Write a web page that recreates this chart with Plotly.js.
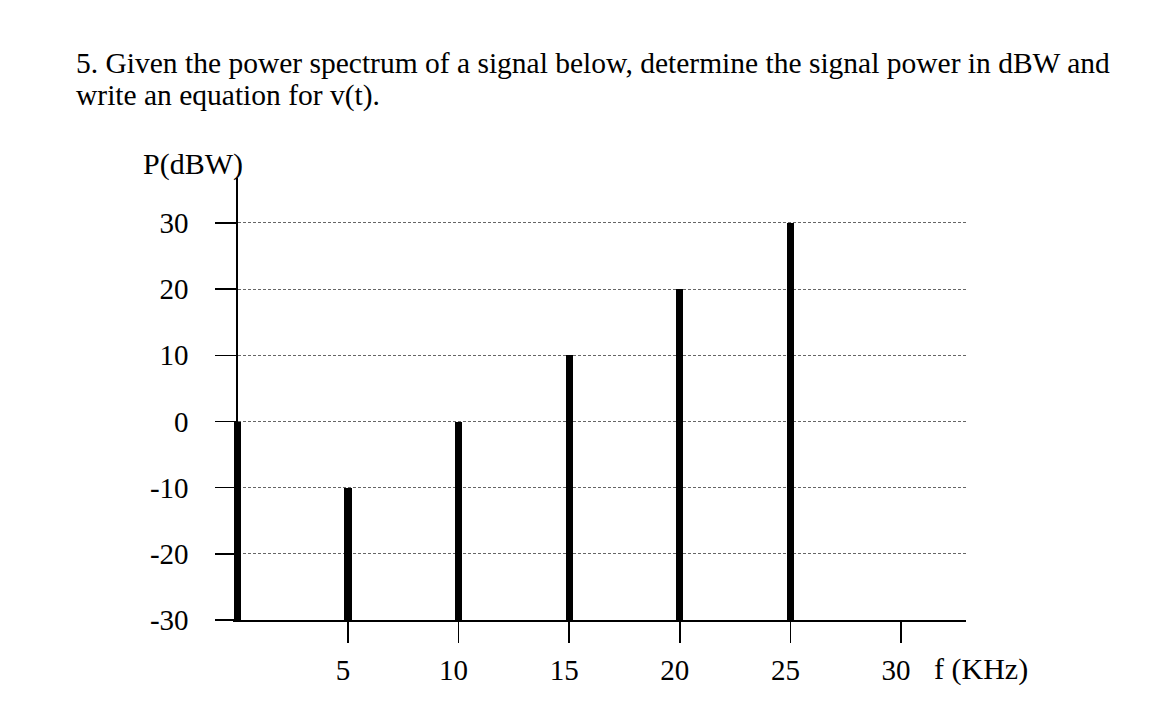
<!DOCTYPE html>
<html>
<head>
<meta charset="utf-8">
<script src="https://cdn.plot.ly/plotly-3.0.1.min.js"></script>
<style>html,body{margin:0;padding:0;background:#fff;}#chart{width:1166px;height:718px;}</style>
</head>
<body>
<div id="chart"></div>
<script>
// Data
var freqs = [0, 5, 10, 15, 20, 25];          // f (KHz)
var powers = [0, -10, 0, 10, 20, 30];        // P (dBW)
var baseLevel = -30;
var xTickVals = [5, 10, 15, 20, 25, 30];
var xTickText = ["5", "10", "15", "20", "25", "30"];
var yTickVals = [-30, -20, -10, 0, 10, 20, 30];
var yTickText = ["-30", "-20", "-10", "0", "10", "20", "30"];
var questionLines = [
  "5. Given the power spectrum of a signal below, determine the signal power in dBW and",
  "write an equation for v(t)."
];
var yLabel = "P(dBW)";
var xLabel = "f (KHz)";

var serif = "Liberation Serif, Times New Roman, serif";
var W = 1166, H = 718;
var mL = 233, mR = 200, mT = 178, mB = 98;
var plotW = W - mL - mR, plotH = H - mT - mB;
var xRange = [-0.2, 32.94];
function xpx(v){ return mL + (v - xRange[0]) / (xRange[1] - xRange[0]) * plotW; }
function px2paperX(p){ return (p - mL) / plotW; }
function px2paperY(p){ return (H - mB - p) / plotH; }
var yAxisPos = (xpx(0) - mL) / plotW;

var trace = {
  type: 'bar',
  x: freqs,
  y: powers.map(function(p){ return p - baseLevel; }),
  base: baseLevel,
  width: 0.32,
  marker: {color: '#000', line: {width: 0}},
  hoverinfo: 'skip'
};

var titleFont = {family: serif, size: 29.5, color: '#000'};
var labelFont = {family: serif, size: 30, color: '#000'};
var tickFont = {family: serif, size: 29, color: '#000'};

var annotations = [
  {text: questionLines[0], xref: 'paper', yref: 'paper',
   x: px2paperX(74), xanchor: 'left', y: px2paperY(63), yanchor: 'middle',
   showarrow: false, font: titleFont},
  {text: questionLines[1], xref: 'paper', yref: 'paper',
   x: px2paperX(74), xanchor: 'left', y: px2paperY(95), yanchor: 'middle',
   showarrow: false, font: titleFont},
  {text: yLabel, xref: 'paper', yref: 'paper',
   x: px2paperX(141), xanchor: 'left', y: px2paperY(164), yanchor: 'middle',
   showarrow: false, font: labelFont},
  {text: xLabel, xref: 'paper', yref: 'paper',
   x: px2paperX(932), xanchor: 'left', y: px2paperY(669), yanchor: 'middle',
   showarrow: false, font: labelFont}
];

var layout = {
  width: W, height: H,
  margin: {l: mL, r: mR, t: mT, b: mB, pad: 0},
  paper_bgcolor: '#fff', plot_bgcolor: '#fff',
  showlegend: false,
  bargap: 0,
  font: {family: serif, color: '#000', size: 26},
  xaxis: {
    range: xRange,
    showgrid: false,
    zeroline: false,
    showline: true, linecolor: '#000', linewidth: 2,
    ticks: 'outside', ticklen: 21, tickwidth: 1.5, tickcolor: '#000',
    tickvals: xTickVals, ticktext: xTickText,
    tickfont: tickFont,
    ticklabelstandoff: 2,
    ticklabelshift: -5,
    fixedrange: true
  },
  yaxis: {
    range: [-30, 36.8],
    anchor: 'free', position: yAxisPos,
    showline: true, linecolor: '#000', linewidth: 2,
    showgrid: true, gridcolor: '#666', gridwidth: 1, griddash: '3px,2px',
    zeroline: false,
    ticks: 'outside', ticklen: 21, tickwidth: 1.5, tickcolor: '#000',
    tickvals: yTickVals, ticktext: yTickText,
    tickfont: tickFont,
    ticklabelstandoff: 21,
    fixedrange: true
  },
  annotations: annotations
};

Plotly.newPlot('chart', [trace], layout, {displayModeBar: false, staticPlot: true});
</script>
</body>
</html>
